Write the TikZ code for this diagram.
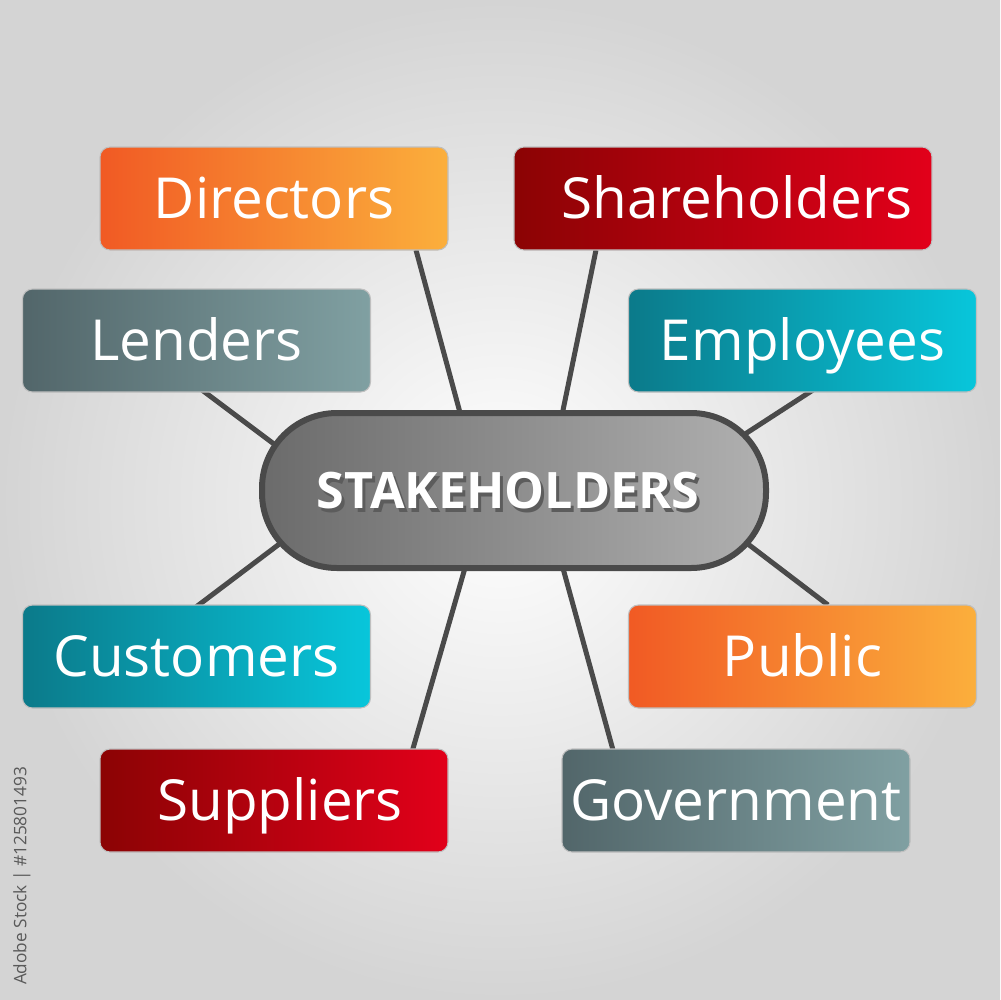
\documentclass[tikz,border=0pt]{standalone}
\usepackage{fontspec}
\setmainfont{Open Sans}
\usetikzlibrary{calc,backgrounds}
\definecolor{orL}{HTML}{F15A24}\definecolor{orR}{HTML}{FBAF3C}
\definecolor{rdL}{HTML}{8B0304}\definecolor{rdR}{HTML}{E2001A}
\definecolor{tlL}{HTML}{0B7A8A}\definecolor{tlR}{HTML}{08C6DB}
\definecolor{slL}{HTML}{52666A}\definecolor{slR}{HTML}{80A0A2}
\definecolor{ctL}{HTML}{6B6B6B}\definecolor{ctR}{HTML}{B0B0B0}
\definecolor{edge}{HTML}{4A4A4A}
\definecolor{bgout}{HTML}{D4D4D4}
\tikzset{
  box/.style={rounded corners=1mm, minimum width=34.8mm, minimum height=10.3mm, inner sep=0pt,
    text=white, font=\fontsize{16.1}{19}\selectfont, text height=4mm, text depth=0mm,
    draw=black!25, line width=0.3pt},
  orbox/.style={box, left color=orL, right color=orR},
  rdbox/.style={box, left color=rdL, right color=rdR},
  tlbox/.style={box, left color=tlL, right color=tlR},
  slbox/.style={box, left color=slL, right color=slR},
  conn/.style={draw=edge, line width=0.5mm},
}
\begin{document}
\begin{tikzpicture}[x=0.1mm,y=-0.1mm]
\useasboundingbox (0,0) rectangle (1000,1000);

\node[orbox] (dir) at (274,198.5) {Directors};
\node[rdbox, minimum width=41.8mm] (sha) at (723,198.5) {\hspace*{2.8mm}Shareholders};
\node[slbox] (len) at (196.5,340.5) {Lenders};
\node[tlbox] (emp) at (802.5,340.5) {Employees};
\node[tlbox] (cus) at (196.5,656.5) {Customers};
\node[orbox] (pub) at (802.5,656.5) {Public};
\node[rdbox] (sup) at (274,800.5) {\hspace*{1.2mm}Suppliers};
\node[slbox] (gov) at (736,800.5) {Government};

\node[rounded corners=7.5mm, minimum width=50.4mm, minimum height=15.5mm, inner sep=0pt,
  left color=ctL, right color=ctR, draw=edge, line width=0.6mm] (c) at (514,490.5) {};
\node[font=\bfseries\fontsize{14.3}{17}\selectfont, text=edge!90] (csh) at ($(c.center)+(-3,4)$) {STAKEHOLDERS};
\node[font=\bfseries\fontsize{14.3}{17}\selectfont, text=white] (ct) at ($(c.center)+(-6,0)$) {STAKEHOLDERS};

\begin{pgfonlayer}{background}
\shade[inner color=white, outer color=bgout] (0,0) rectangle (1000,1000);
\coordinate (d1) at (416,250); \coordinate (d2) at (462,420);
\coordinate (s1) at (596,250); \coordinate (s2) at (561,420);
\coordinate (l1) at (202,390); \coordinate (l2) at (278,447);
\coordinate (e1) at (813,390); \coordinate (e2) at (742,436);
\coordinate (u1) at (196,607); \coordinate (u2) at (282,542);
\coordinate (p1) at (828,605); \coordinate (p2) at (744,541);
\coordinate (q1) at (412,752); \coordinate (q2) at (467,561);
\coordinate (g1) at (613,750); \coordinate (g2) at (561,561);
\draw[conn] (d1) -- (d2);
\draw[conn] (s1) -- (s2);
\draw[conn] (l1) -- (l2);
\draw[conn] (e1) -- (e2);
\draw[conn] (u1) -- (u2);
\draw[conn] (p1) -- (p2);
\draw[conn] (q1) -- (q2);
\draw[conn] (g1) -- (g2);
\end{pgfonlayer}

\node[rotate=90, font=\fontsize{4.9}{6}\selectfont, text=black!65] (wm) at (22,876) {Adobe Stock | \#125801493};
\end{tikzpicture}
\end{document}
